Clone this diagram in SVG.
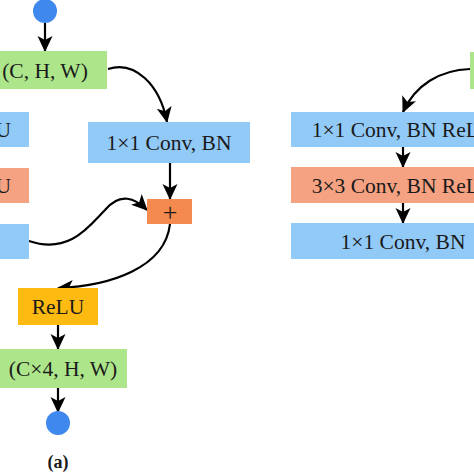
<svg xmlns="http://www.w3.org/2000/svg" width="474" height="474" viewBox="0 0 474 474">
<defs>
<style>
text{font-family:"Liberation Serif","Times New Roman",serif;font-size:21.5px;fill:#1a1a1a}
.c{text-anchor:middle}
.blue{fill:#92CAF7}
.salmon{fill:#F5A282}
.plus{fill:#F58A4E}
.green{fill:#ADE68A}
.relu{fill:#FDBB12}
.dot{fill:#3F88EE}
.ln{fill:none;stroke:#000;stroke-width:2.2;marker-end:url(#ah)}
</style>
<marker id="ah" markerUnits="userSpaceOnUse" markerWidth="16" markerHeight="16" viewBox="0 0 16 16" refX="15" refY="8" orient="auto">
<path d="M0,0.5 L16,8 L0,15.5 L4,8 Z" fill="#000"/>
</marker>
<clipPath id="clipL"><rect x="0" y="0" width="29" height="474"/></clipPath>
<clipPath id="clipR"><rect x="291" y="0" width="183" height="474"/></clipPath>
</defs>
<g id="connectors">
<line class="ln" x1="45" y1="23" x2="45" y2="51"/>
<path class="ln" d="M108,69 C135,60 160,85 167,122"/>
<line class="ln" x1="170" y1="163" x2="170" y2="199"/>
<path class="ln" d="M29,241 C70,255 90,225 105,210 C120,192 135,198 147,210"/>
<path class="ln" d="M170,224 C165,268 110,286 58,288"/>
<line class="ln" x1="58" y1="325" x2="58" y2="349"/>
<line class="ln" x1="58" y1="388" x2="58" y2="412"/>
<path class="ln" d="M470,69 C440,70 415,85 403,112"/>
<line class="ln" x1="403" y1="147" x2="403" y2="167"/>
<line class="ln" x1="403" y1="203" x2="403" y2="223"/>
</g>
<g id="in-dot"><circle class="dot" cx="45" cy="11" r="12"/></g>
<g id="in-shape"><rect class="green" x="0" y="51" width="107" height="38"/><text class="c" x="45" y="78">(C, H, W)</text></g>
<g id="conv-main"><rect class="blue" x="88" y="122" width="162" height="41"/><text class="c" x="169" y="150">1×1 Conv, BN</text></g>
<g id="add"><rect class="plus" x="147" y="199" width="45" height="25"/><text class="c" x="170" y="221" style="font-size:26px">+</text></g>
<g id="left-1" clip-path="url(#clipL)"><rect class="blue" x="0" y="112" width="29" height="35"/><text x="11" y="137" style="text-anchor:end">U</text></g>
<g id="left-2" clip-path="url(#clipL)"><rect class="salmon" x="0" y="168" width="29" height="35"/><text x="11" y="193" style="text-anchor:end">U</text></g>
<g id="left-3"><rect class="blue" x="0" y="224" width="29" height="35"/></g>
<g id="relu"><rect class="relu" x="18" y="288" width="80" height="37"/><text class="c" x="58" y="314">ReLU</text></g>
<g id="out-shape"><rect class="green" x="0" y="349" width="127" height="39"/><text class="c" x="63" y="376">(C×4, H, W)</text></g>
<g id="out-dot"><circle class="dot" cx="58" cy="423" r="12"/></g>
<g id="caption"><text class="c" x="58" y="468" style="font-weight:bold;font-size:18px">(a)</text></g>
<g id="right-in"><rect class="green" x="470" y="52" width="4" height="37"/></g>
<g id="right-1" clip-path="url(#clipR)"><rect class="blue" x="291" y="112" width="183" height="35"/><text class="c" x="403" y="137">1×1 Conv, BN ReLU</text></g>
<g id="right-2" clip-path="url(#clipR)"><rect class="salmon" x="291" y="167" width="183" height="36"/><text class="c" x="403" y="193">3×3 Conv, BN ReLU</text></g>
<g id="right-3"><rect class="blue" x="291" y="223" width="183" height="36"/><text class="c" x="403" y="249">1×1 Conv, BN</text></g>
</svg>
